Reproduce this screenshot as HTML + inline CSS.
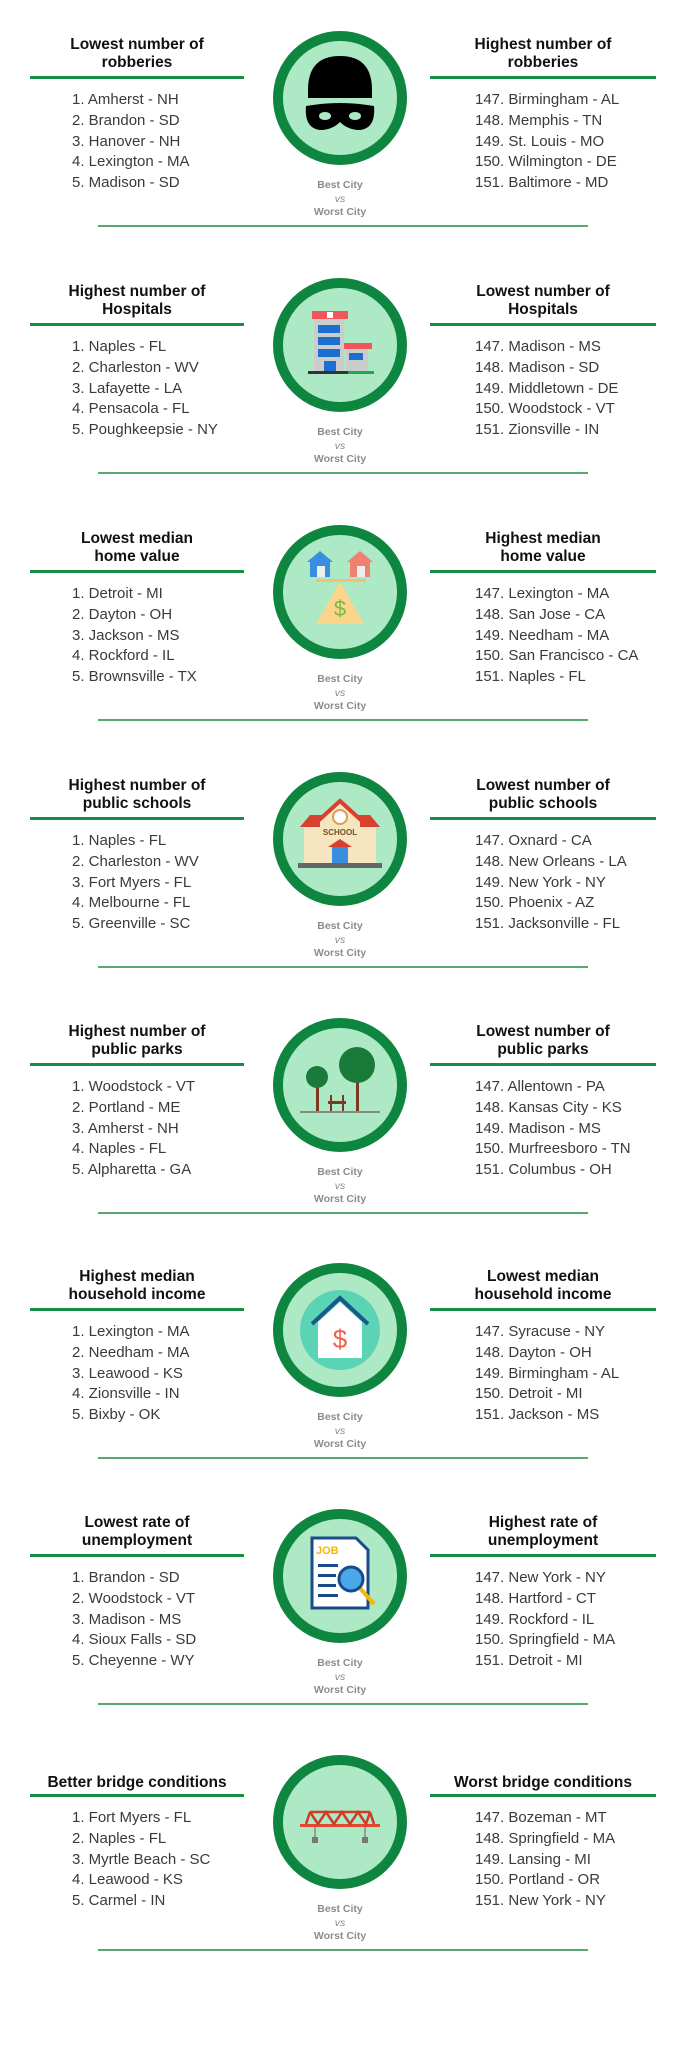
<!DOCTYPE html>
<html><head><meta charset="utf-8"><style>
body{margin:0;width:680px;height:2048px;background:#fff;position:relative;font-family:"Liberation Sans",sans-serif;overflow:hidden}
.s{position:absolute;left:0;width:680px;height:240px}
.h{position:absolute;top:36px;width:260px;text-align:center;font-weight:bold;font-size:15.5px;line-height:18px;color:#111}
.hl{left:7px}.hr{left:413px}
.u{position:absolute;top:76px;height:3px;background:#139044}
.ul{left:30px;width:214px}.ur{left:430px;width:226px}
.l{position:absolute;top:90px;font-size:15px;line-height:20.8px;color:#3a3a3a}
.ll{left:72px}.lr{left:475px}
.c{position:absolute;left:273px;top:31px;width:114px;height:114px;border:10px solid #0e8640;border-radius:50%;background:#aee9c6}
.c svg{position:absolute;left:7px;top:7px}
.b{position:absolute;left:290px;width:100px;top:179px;text-align:center;font-size:10.5px;line-height:13.5px;color:#8c8c8c;font-weight:bold}
.b i{font-weight:normal}
.bl{position:absolute;top:225px;left:98px;width:490px;height:1.5px;background:#5aa870}
.s8 .h{top:50px}.s8 .u{top:70px}.s8 .l{top:84px}
</style></head><body>

<div class="s" style="top:0">
<div class="h hl">Lowest number of<br>robberies</div><div class="h hr">Highest number of<br>robberies</div>
<div class="u ul"></div><div class="u ur"></div>
<div class="l ll">1. Amherst - NH<br>2. Brandon - SD<br>3. Hanover - NH<br>4. Lexington - MA<br>5. Madison - SD</div>
<div class="l lr">147. Birmingham - AL<br>148. Memphis - TN<br>149. St. Louis - MO<br>150. Wilmington - DE<br>151. Baltimore - MD</div>
<div class="c"><svg width="100" height="100"><path d="M18 42 Q18 8 50 8 Q82 8 82 42 L82 50 L18 50Z" fill="#000"/><path d="M16 58 Q50 52 84 58 Q86 80 70 82 Q58 82 50 74 Q42 82 30 82 Q14 80 16 58Z" fill="#000"/><ellipse cx="35" cy="68" rx="6" ry="4" fill="#aee9c6"/><ellipse cx="65" cy="68" rx="6" ry="4" fill="#aee9c6"/></svg></div>
<div class="b">Best City<br><i>vs</i><br>Worst City</div><div class="bl"></div>
</div>

<div class="s" style="top:247px">
<div class="h hl">Highest number of<br>Hospitals</div><div class="h hr">Lowest number of<br>Hospitals</div>
<div class="u ul"></div><div class="u ur"></div>
<div class="l ll">1. Naples - FL<br>2. Charleston - WV<br>3. Lafayette - LA<br>4. Pensacola - FL<br>5. Poughkeepsie - NY</div>
<div class="l lr">147. Madison - MS<br>148. Madison - SD<br>149. Middletown - DE<br>150. Woodstock - VT<br>151. Zionsville - IN</div>
<div class="c"><svg width="100" height="100"><rect x="22" y="16" width="36" height="8" fill="#f0565a"/><rect x="37" y="17" width="6" height="6" fill="#fff"/><rect x="24" y="24" width="30" height="52" fill="#ccc"/><rect x="28" y="30" width="22" height="8" fill="#1a6fd0"/><rect x="28" y="42" width="22" height="8" fill="#1a6fd0"/><rect x="28" y="54" width="22" height="8" fill="#1a6fd0"/><rect x="34" y="66" width="12" height="10" fill="#1a6fd0"/><rect x="54" y="48" width="28" height="6" fill="#f0565a"/><rect x="56" y="54" width="22" height="22" fill="#ccc"/><rect x="59" y="58" width="14" height="7" fill="#1a6fd0"/><rect x="18" y="76" width="44" height="3" fill="#333"/><rect x="58" y="76" width="26" height="3" fill="#1aaa55"/></svg></div>
<div class="b">Best City<br><i>vs</i><br>Worst City</div><div class="bl"></div>
</div>

<div class="s" style="top:494px">
<div class="h hl">Lowest median<br>home value</div><div class="h hr">Highest median<br>home value</div>
<div class="u ul"></div><div class="u ur"></div>
<div class="l ll">1. Detroit - MI<br>2. Dayton - OH<br>3. Jackson - MS<br>4. Rockford - IL<br>5. Brownsville - TX</div>
<div class="l lr">147. Lexington - MA<br>148. San Jose - CA<br>149. Needham - MA<br>150. San Francisco - CA<br>151. Naples - FL</div>
<div class="c"><svg width="100" height="100"><path d="M17 20 L30 9 L43 20 L40 20 L40 35 L20 35 L20 20Z" fill="#3a8ee0"/><rect x="27" y="24" width="8" height="11" fill="#eee"/><path d="M57 20 L70 9 L83 20 L80 20 L80 35 L60 35 L60 20Z" fill="#f08070"/><rect x="67" y="24" width="8" height="11" fill="#eee"/><rect x="26" y="37" width="50" height="3" fill="#f5c070"/><path d="M50 40 L74 82 L26 82Z" fill="#fdd58a"/><text x="50" y="74" font-size="22" text-anchor="middle" fill="#7ab84a" font-family="Liberation Sans">$</text></svg></div>
<div class="b">Best City<br><i>vs</i><br>Worst City</div><div class="bl"></div>
</div>

<div class="s" style="top:741px">
<div class="h hl">Highest number of<br>public schools</div><div class="h hr">Lowest number of<br>public schools</div>
<div class="u ul"></div><div class="u ur"></div>
<div class="l ll">1. Naples - FL<br>2. Charleston - WV<br>3. Fort Myers - FL<br>4. Melbourne - FL<br>5. Greenville - SC</div>
<div class="l lr">147. Oxnard - CA<br>148. New Orleans - LA<br>149. New York - NY<br>150. Phoenix - AZ<br>151. Jacksonville - FL</div>
<div class="c"><svg width="100" height="100"><path d="M10 38 L20 26 L80 26 L90 38Z" fill="#d84030"/><rect x="14" y="38" width="72" height="36" fill="#f5e6c0"/><path d="M30 30 L50 14 L70 30 L70 74 L30 74Z" fill="#f5e6c0"/><path d="M28 32 L50 12 L72 32" stroke="#d84030" stroke-width="4" fill="none"/><circle cx="50" cy="28" r="7" fill="#fff" stroke="#d8a050" stroke-width="2"/><text x="50" y="46" font-size="8" font-weight="bold" text-anchor="middle" fill="#7a4a20" font-family="Liberation Sans">SCHOOL</text><path d="M38 58 L50 50 L62 58Z" fill="#d84030"/><rect x="42" y="58" width="16" height="16" fill="#3a8ee0"/><rect x="8" y="74" width="84" height="5" fill="#666"/></svg></div>
<div class="b">Best City<br><i>vs</i><br>Worst City</div><div class="bl"></div>
</div>

<div class="s" style="top:987px">
<div class="h hl">Highest number of<br>public parks</div><div class="h hr">Lowest number of<br>public parks</div>
<div class="u ul"></div><div class="u ur"></div>
<div class="l ll">1. Woodstock - VT<br>2. Portland - ME<br>3. Amherst - NH<br>4. Naples - FL<br>5. Alpharetta - GA</div>
<div class="l lr">147. Allentown - PA<br>148. Kansas City - KS<br>149. Madison - MS<br>150. Murfreesboro - TN<br>151. Columbus - OH</div>
<div class="c"><svg width="100" height="100"><rect x="26" y="48" width="3" height="28" fill="#7a3a20"/><circle cx="27" cy="42" r="11" fill="#1a7a3a"/><rect x="66" y="40" width="3" height="36" fill="#7a3a20"/><circle cx="67" cy="30" r="18" fill="#1a7a3a"/><rect x="38" y="66" width="18" height="3" fill="#7a3a20"/><rect x="40" y="60" width="2" height="16" fill="#7a3a20"/><rect x="52" y="60" width="2" height="16" fill="#7a3a20"/><rect x="10" y="76" width="80" height="2" fill="#888"/></svg></div>
<div class="b">Best City<br><i>vs</i><br>Worst City</div><div class="bl"></div>
</div>

<div class="s" style="top:1232px">
<div class="h hl">Highest median<br>household income</div><div class="h hr">Lowest median<br>household income</div>
<div class="u ul"></div><div class="u ur"></div>
<div class="l ll">1. Lexington - MA<br>2. Needham - MA<br>3. Leawood - KS<br>4. Zionsville - IN<br>5. Bixby - OK</div>
<div class="l lr">147. Syracuse - NY<br>148. Dayton - OH<br>149. Birmingham - AL<br>150. Detroit - MI<br>151. Jackson - MS</div>
<div class="c"><svg width="100" height="100"><circle cx="50" cy="50" r="40" fill="#5ad4b4"/><path d="M22 44 L50 18 L78 44" stroke="#1a5a8a" stroke-width="4" fill="none"/><path d="M28 42 L50 22 L72 42 L72 78 L28 78Z" fill="#fff"/><text x="50" y="68" font-size="26" text-anchor="middle" fill="#f06050" font-family="Liberation Sans">$</text></svg></div>
<div class="b">Best City<br><i>vs</i><br>Worst City</div><div class="bl"></div>
</div>

<div class="s" style="top:1478px">
<div class="h hl">Lowest rate of<br>unemployment</div><div class="h hr">Highest rate of<br>unemployment</div>
<div class="u ul"></div><div class="u ur"></div>
<div class="l ll">1. Brandon - SD<br>2. Woodstock - VT<br>3. Madison - MS<br>4. Sioux Falls - SD<br>5. Cheyenne - WY</div>
<div class="l lr">147. New York - NY<br>148. Hartford - CT<br>149. Rockford - IL<br>150. Springfield - MA<br>151. Detroit - MI</div>
<div class="c"><svg width="100" height="100"><path d="M22 12 L66 12 L78 24 L78 82 L22 82Z" fill="#fff" stroke="#1a4a8a" stroke-width="3"/><text x="26" y="28" font-size="11" font-weight="bold" fill="#f5b800" font-family="Liberation Sans">JOB</text><rect x="28" y="38" width="20" height="3" fill="#1a4a8a"/><rect x="28" y="48" width="18" height="3" fill="#1a4a8a"/><rect x="28" y="58" width="18" height="3" fill="#1a4a8a"/><rect x="28" y="68" width="20" height="3" fill="#1a4a8a"/><line x1="68" y1="60" x2="84" y2="78" stroke="#f5b800" stroke-width="4"/><circle cx="61" cy="53" r="12" fill="#4aa8e8" stroke="#1a4a8a" stroke-width="3"/></svg></div>
<div class="b">Best City<br><i>vs</i><br>Worst City</div><div class="bl"></div>
</div>

<div class="s s8" style="top:1724px">
<div class="h hl">Better bridge conditions</div><div class="h hr">Worst bridge conditions</div>
<div class="u ul"></div><div class="u ur"></div>
<div class="l ll">1. Fort Myers - FL<br>2. Naples - FL<br>3. Myrtle Beach - SC<br>4. Leawood - KS<br>5. Carmel - IN</div>
<div class="l lr">147. Bozeman - MT<br>148. Springfield - MA<br>149. Lansing - MI<br>150. Portland - OR<br>151. New York - NY</div>
<div class="c"><svg width="100" height="100"><rect x="10" y="52" width="80" height="3" fill="#e04a30"/><path d="M20 40 L80 40 M20 40 L28 52 L36 40 L44 52 L52 40 L60 52 L68 40 L76 52 L80 40 M20 40 L16 52 M80 40 L84 52" stroke="#d03a28" stroke-width="2.5" fill="none"/><rect x="24" y="55" width="2" height="10" fill="#999"/><rect x="22" y="65" width="6" height="6" fill="#777"/><rect x="74" y="55" width="2" height="10" fill="#999"/><rect x="72" y="65" width="6" height="6" fill="#777"/></svg></div>
<div class="b">Best City<br><i>vs</i><br>Worst City</div><div class="bl"></div>
</div>

</body></html>
